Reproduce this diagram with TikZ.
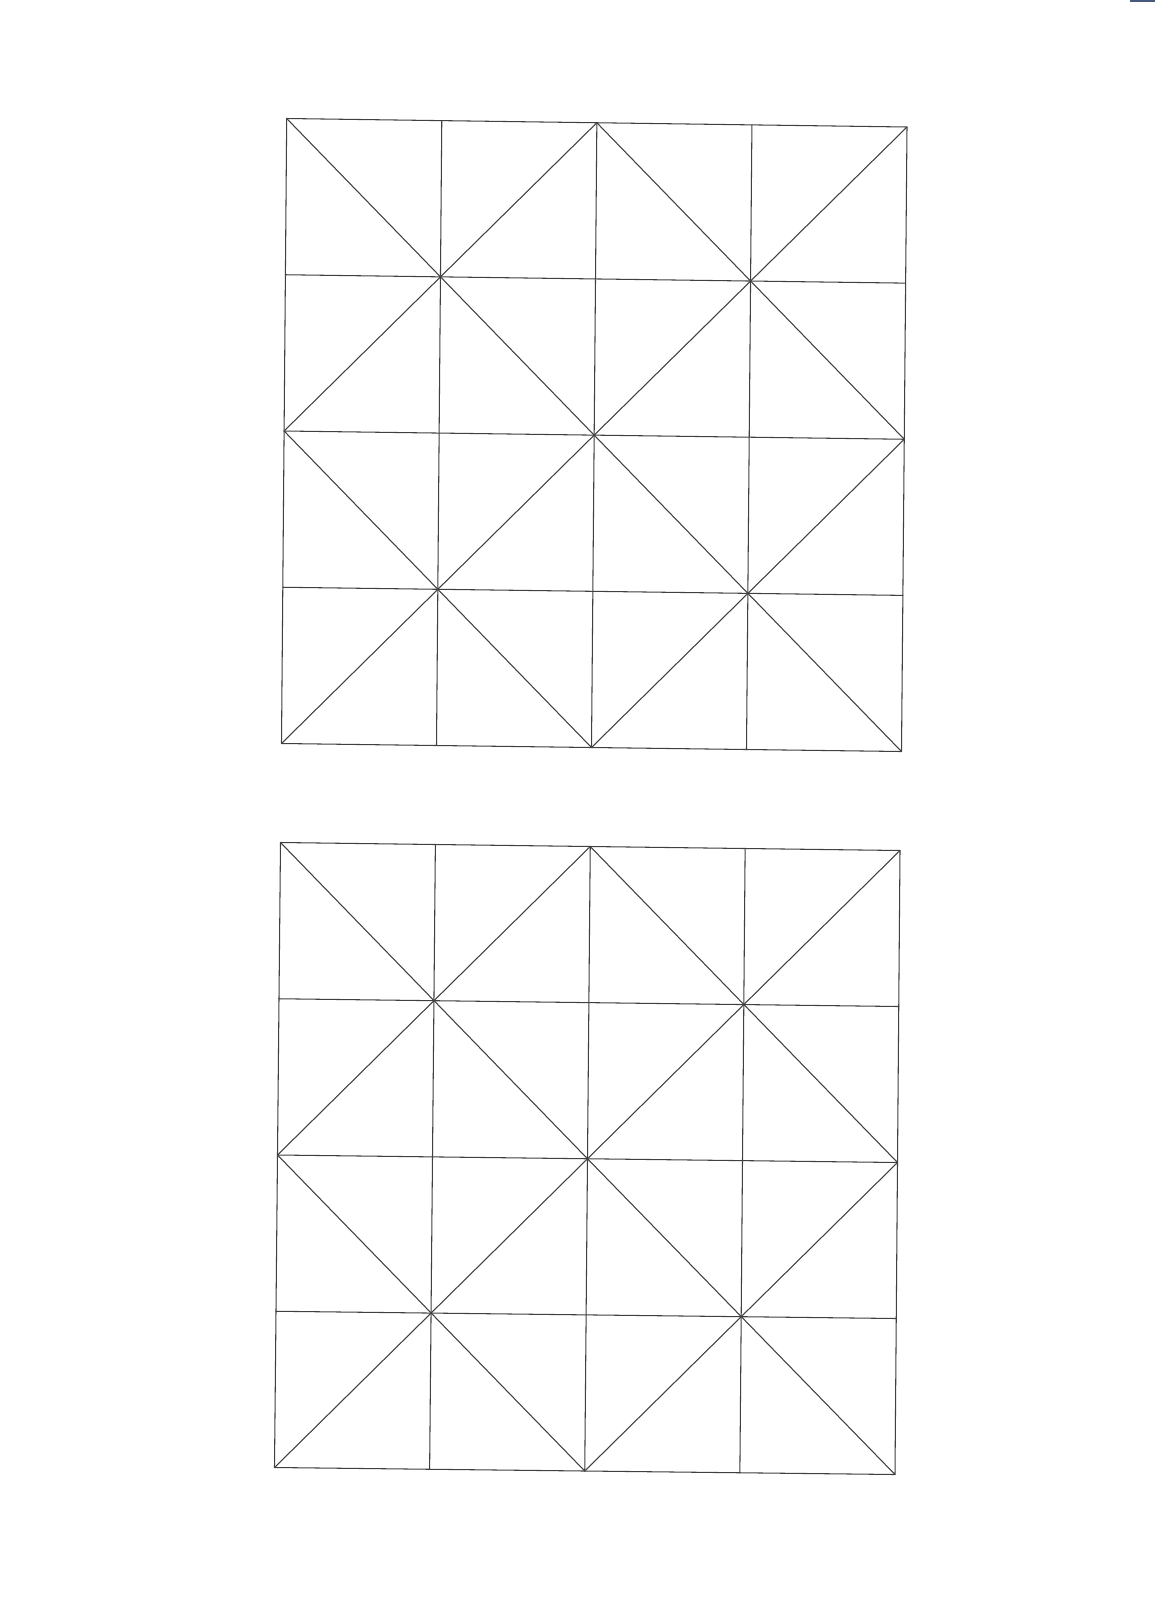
\documentclass[tikz,border=0pt]{standalone}
\usepackage{tikz}
\usetikzlibrary{calc}

\tikzset{gridline/.style={line width=0.6pt, color=black!75}}
\definecolor{scanblue}{RGB}{70,90,125}

\begin{document}
\begin{tikzpicture}[line cap=round,line join=round,x=0.02cm,y=-0.02cm]
\useasboundingbox [fill=white] (0,0) rectangle (1155,1600);
% corners: A top left, B top right, C bottom left, D bottom right
\coordinate (tA) at (286.7,118.5);
\coordinate (tB) at (907,127);
\coordinate (tC) at (281.5,743.5);
\coordinate (tD) at (901.5,751.5);
\coordinate (bA) at (280.5,842.5);
\coordinate (bB) at (900,850.5);
\coordinate (bC) at (274.5,1467.5);
\coordinate (bD) at (895,1474.5);
% grid points p(col)(row)
\foreach \g in {t,b} {
  \foreach \j in {0,...,4} {
    \coordinate (\g L\j) at ($(\g A)!\j/4!(\g C)$);
    \coordinate (\g R\j) at ($(\g B)!\j/4!(\g D)$);
    \foreach \i in {0,...,4}
      \coordinate (\g p\i\j) at ($(\g L\j)!\i/4!(\g R\j)$);
  }
}
\foreach \g in {t,b} {
  \draw [gridline] (\g A)-- (\g B)-- (\g D)-- (\g C)-- cycle;
  \foreach \k in {1,2,3} {
    \draw [gridline] (\g p\k0)-- (\g p\k4);
    \draw [gridline] (\g p0\k)-- (\g p4\k);
  }
  % the four crosses
  \draw [gridline] (\g p00)-- (\g p22);
  \draw [gridline] (\g p20)-- (\g p02);
  \draw [gridline] (\g p20)-- (\g p42);
  \draw [gridline] (\g p40)-- (\g p22);
  \draw [gridline] (\g p02)-- (\g p24);
  \draw [gridline] (\g p22)-- (\g p04);
  \draw [gridline] (\g p22)-- (\g p44);
  \draw [gridline] (\g p42)-- (\g p24);
}
%\draw [gridline] (tp11)-- (tp33);
\fill [scanblue] (1130,0) rectangle (1155,2);
\end{tikzpicture}
\end{document}
